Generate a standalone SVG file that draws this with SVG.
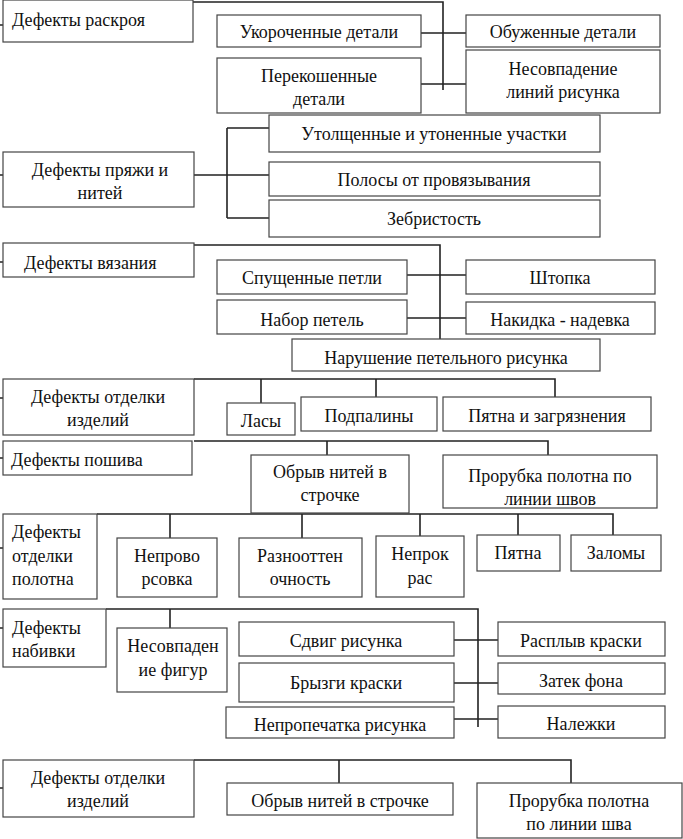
<svg xmlns="http://www.w3.org/2000/svg" width="683" height="839" viewBox="0 0 683 839">
<style>
rect{fill:#fff;stroke:#444;stroke-width:1.2}
text{font-family:'Liberation Serif','Times New Roman','DejaVu Serif',serif;font-size:18px;fill:#111;text-anchor:middle}
.l{text-anchor:start}
.c{fill:none;stroke:#222;stroke-width:1.6}
</style>
<rect x="0" y="0" width="683" height="839" style="stroke:none"/>
<g id="connectors" class="c">
<path d="M0 25H3M193 2H443V90M421 33H466M421 84H466"/>
<path d="M0 175H3M194 175H269M227 128V218M227 128H269M227 218H269"/>
<path d="M0 262H3M194 245H440V339M407 275H466M407 318H466"/>
<path d="M0 398H3M194 379H555V397M261 379V403M376 379V397"/>
<path d="M0 458H3M194 441H548V455M327 441V455"/>
<path d="M0 548H3M97 514H613V535M170 514V538M302 514V538M420 514V536M518 514V535"/>
<path d="M0 628H3M106 609H478V727M170 609V628M454 640H498M454 683H498M454 719H498"/>
<path d="M0 788H3M194 760H571V783M339 760V783"/>
</g>
<g id="n1"><rect x="3" y="0" width="190" height="42"/><text class="l" x="12" y="26">Дефекты раскроя</text></g>
<g id="n2"><rect x="217" y="15" width="204" height="32"/><text x="319" y="38">Укороченные детали</text></g>
<g id="n3"><rect x="466" y="15" width="194" height="32"/><text x="563" y="38">Обуженные детали</text></g>
<g id="n4"><rect x="217" y="58" width="204" height="55"/><text x="319" y="82">Перекошенные</text><text x="319" y="105">детали</text></g>
<g id="n5"><rect x="466" y="50" width="194" height="63"/><text x="563" y="75">Несовпадение</text><text x="563" y="98">линий рисунка</text></g>
<g id="n6"><rect x="269" y="115" width="331" height="37"/><text x="434" y="140">Утолщенные и утоненные участки</text></g>
<g id="n7"><rect x="3" y="152" width="191" height="55"/><text x="100" y="176">Дефекты пряжи и</text><text x="100" y="199">нитей</text></g>
<g id="n8"><rect x="269" y="162" width="331" height="34"/><text x="434" y="186">Полосы от провязывания</text></g>
<g id="n9"><rect x="269" y="200" width="331" height="37"/><text x="434" y="225">Зебристость</text></g>
<g id="n10"><rect x="3" y="243" width="191" height="34"/><text class="l" x="24" y="269">Дефекты вязания</text></g>
<g id="n11"><rect x="217" y="260" width="190" height="34"/><text x="312" y="284">Спущенные петли</text></g>
<g id="n12"><rect x="466" y="260" width="189" height="34"/><text x="560" y="284">Штопка</text></g>
<g id="n13"><rect x="217" y="300" width="190" height="34"/><text x="312" y="326">Набор петель</text></g>
<g id="n14"><rect x="466" y="302" width="189" height="32"/><text x="560" y="326">Накидка - надевка</text></g>
<g id="n15"><rect x="292" y="339" width="308" height="32"/><text x="446" y="364">Нарушение петельного рисунка</text></g>
<g id="n16"><rect x="3" y="379" width="191" height="56"/><text x="98" y="403">Дефекты отделки</text><text x="98" y="426">изделий</text></g>
<g id="n17"><rect x="227" y="403" width="68" height="32"/><text x="261" y="427">Ласы</text></g>
<g id="n18"><rect x="301" y="397" width="136" height="34"/><text x="369" y="422">Подпалины</text></g>
<g id="n19"><rect x="443" y="397" width="208" height="34"/><text x="547" y="422">Пятна и загрязнения</text></g>
<g id="n20"><rect x="3" y="441" width="189" height="34"/><text class="l" x="11" y="466">Дефекты пошива</text></g>
<g id="n21"><rect x="251" y="455" width="158" height="58"/><text x="330" y="478">Обрыв нитей в</text><text x="330" y="501">строчке</text></g>
<g id="n22"><rect x="443" y="455" width="214" height="53"/><text x="550" y="482">Прорубка полотна по</text><text x="550" y="505">линии  швов</text></g>
<g id="n23"><rect x="3" y="514" width="94" height="85"/><text class="l" x="12" y="538">Дефекты</text><text class="l" x="12" y="562">отделки</text><text class="l" x="12" y="585">полотна</text></g>
<g id="n24"><rect x="117" y="538" width="100" height="59"/><text x="167" y="562">Непрово</text><text x="167" y="585">рсовка</text></g>
<g id="n25"><rect x="239" y="538" width="123" height="59"/><text x="300" y="562">Разнооттен</text><text x="300" y="585">очность</text></g>
<g id="n26"><rect x="376" y="536" width="88" height="61"/><text x="420" y="560">Непрок</text><text x="420" y="584">рас</text></g>
<g id="n27"><rect x="477" y="535" width="83" height="36"/><text x="518" y="559">Пятна</text></g>
<g id="n28"><rect x="571" y="535" width="90" height="36"/><text x="616" y="559">Заломы</text></g>
<g id="n29"><rect x="3" y="609" width="103" height="58"/><text class="l" x="12" y="634">Дефекты</text><text class="l" x="12" y="657">набивки</text></g>
<g id="n30"><rect x="117" y="628" width="110" height="64"/><text x="173" y="652">Несовпаден</text><text x="173" y="676">ие фигур</text></g>
<g id="n31"><rect x="239" y="622" width="215" height="34"/><text x="346" y="647">Сдвиг рисунка</text></g>
<g id="n32"><rect x="239" y="663" width="215" height="39"/><text x="346" y="689">Брызги краски</text></g>
<g id="n33"><rect x="226" y="707" width="228" height="31"/><text x="340" y="731">Непропечатка рисунка</text></g>
<g id="n34"><rect x="498" y="622" width="167" height="34"/><text x="581" y="647">Расплыв краски</text></g>
<g id="n35"><rect x="498" y="663" width="167" height="31"/><text x="581" y="687">Затек фона</text></g>
<g id="n36"><rect x="498" y="706" width="167" height="32"/><text x="581" y="730">Належки</text></g>
<g id="n37"><rect x="3" y="760" width="191" height="57"/><text x="98" y="784">Дефекты отделки</text><text x="98" y="807">изделий</text></g>
<g id="n38"><rect x="227" y="783" width="226" height="32"/><text x="340" y="807">Обрыв нитей в строчке</text></g>
<g id="n39"><rect x="477" y="783" width="205" height="55"/><text x="579" y="807">Прорубка полотна</text><text x="579" y="830">по линии шва</text></g>
</svg>
